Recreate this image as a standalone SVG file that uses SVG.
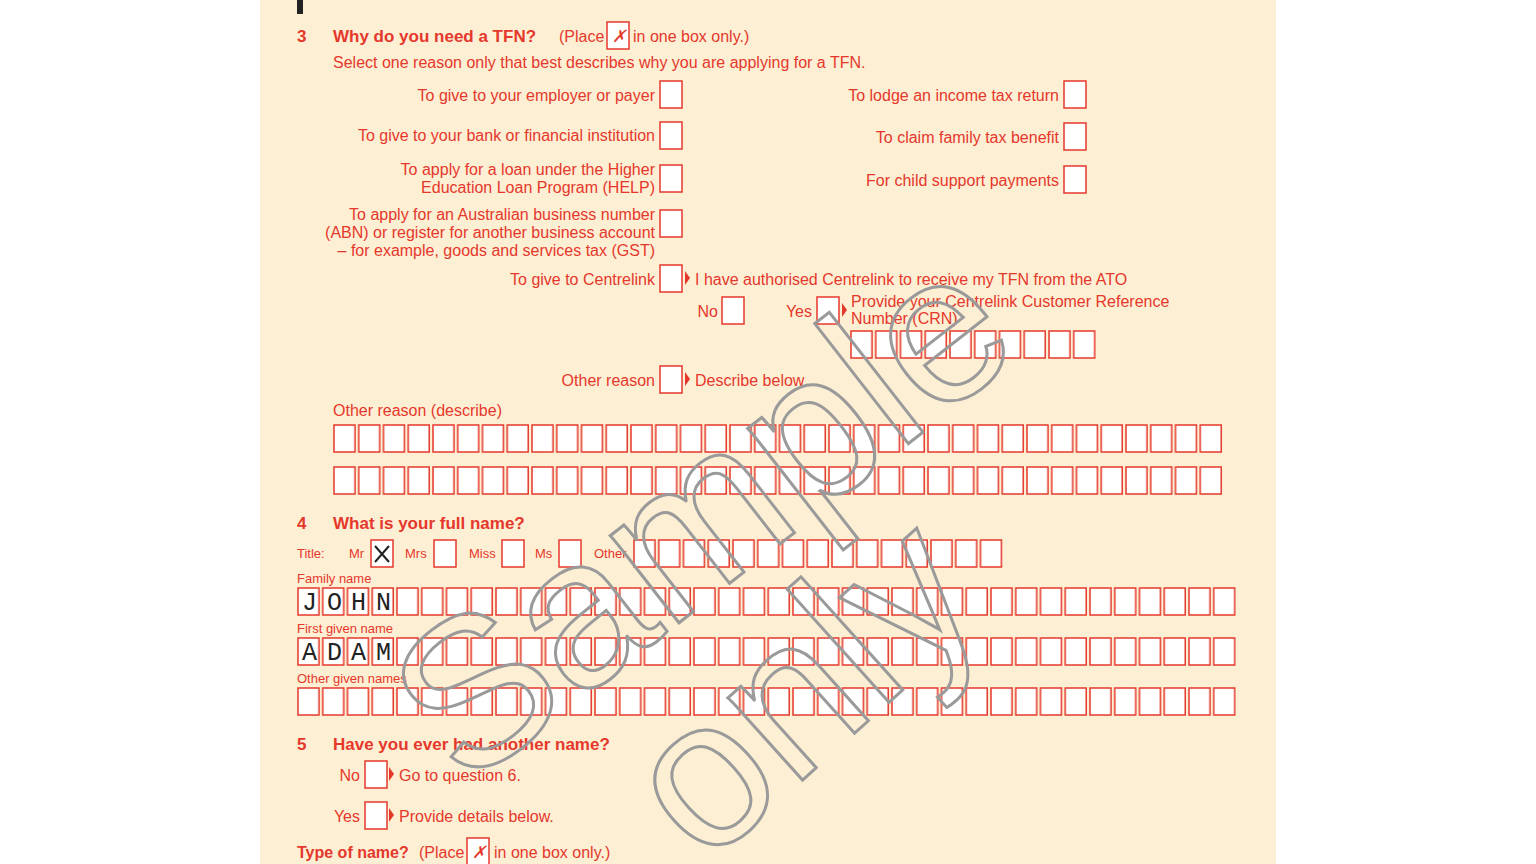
<svg xmlns="http://www.w3.org/2000/svg" width="1536" height="864" viewBox="0 0 1536 864">
<style>
text{font-family:"Liberation Sans",Arial,sans-serif;fill:#e5382c;font-size:16px}
.b{font-weight:bold;font-size:17px}
.s{font-size:13px}
.r{text-anchor:end}
.bx{fill:#fff;stroke:#e5382c;stroke-width:1.5}
.m{font-family:"Liberation Mono",monospace;fill:#222;font-size:25px}
.wm{fill:none;stroke:#9a9a9a;stroke-width:3;font-family:"Liberation Sans",Arial,sans-serif;font-size:210px}
</style>
<defs>
<pattern id="cell" patternUnits="userSpaceOnUse" width="24.75" height="30"><rect class="bx" x="1" y="1" width="21" height="27"/></pattern>
<path id="ar" d="M0,-7 L5,0 L0,7Z" fill="#e5382c"/>
</defs>
<rect width="1536" height="864" fill="#fff"/>
<rect x="260" y="0" width="1016" height="864" fill="#fdefd4"/>
<rect x="297" y="0" width="6" height="14" fill="#222"/>
<g id="q3">
<text x="297" y="42" class="b">3</text>
<text x="333" y="42" class="b">Why do you need a TFN?</text>
<text x="559" y="42">(Place</text>
<rect class="bx" x="607" y="22" width="22" height="27"/>
<text x="612" y="42" style="font-style:italic;font-size:17px">✗</text>
<text x="633" y="42">in one box only.)</text>
<text x="333" y="68">Select one reason only that best describes why you are applying for a TFN.</text>
<text x="655" y="101" class="r">To give to your employer or payer</text>
<rect class="bx" x="660" y="81" width="22" height="27"/>
<text x="655" y="141" class="r">To give to your bank or financial institution</text>
<rect class="bx" x="660" y="122" width="22" height="27"/>
<text x="655" y="175" class="r">To apply for a loan under the Higher</text>
<text x="655" y="193" class="r">Education Loan Program (HELP)</text>
<rect class="bx" x="660" y="165" width="22" height="27"/>
<text x="655" y="220" class="r">To apply for an Australian business number</text>
<text x="655" y="238" class="r">(ABN) or register for another business account</text>
<text x="655" y="256" class="r">– for example, goods and services tax (GST)</text>
<rect class="bx" x="660" y="210" width="22" height="27"/>
<text x="1059" y="101" class="r">To lodge an income tax return</text>
<rect class="bx" x="1064" y="81" width="22" height="27"/>
<text x="1059" y="143" class="r">To claim family tax benefit</text>
<rect class="bx" x="1064" y="123" width="22" height="27"/>
<text x="1059" y="186" class="r">For child support payments</text>
<rect class="bx" x="1064" y="166" width="22" height="27"/>
<text x="655" y="285" class="r">To give to Centrelink</text>
<rect class="bx" x="660" y="265" width="22" height="27"/>
<use href="#ar" x="685" y="278"/>
<text x="695" y="285">I have authorised Centrelink to receive my TFN from the ATO</text>
<text x="718" y="317" class="r">No</text>
<rect class="bx" x="722" y="297" width="22" height="27"/>
<text x="812" y="317" class="r">Yes</text>
<rect class="bx" x="817" y="297" width="22" height="27"/>
<use href="#ar" x="842" y="310"/>
<text x="851" y="307">Provide your Centrelink Customer Reference</text>
<text x="851" y="324">Number (CRN)</text>
<rect transform="translate(850,330)" width="247" height="30" fill="url(#cell)"/>
<text x="655" y="386" class="r">Other reason</text>
<rect class="bx" x="660" y="366" width="22" height="27"/>
<use href="#ar" x="685" y="379"/>
<text x="695" y="386">Describe below</text>
<text x="333" y="416">Other reason (describe)</text>
<rect transform="translate(333,424)" width="890" height="30" fill="url(#cell)"/>
<rect transform="translate(333,466)" width="890" height="30" fill="url(#cell)"/>
</g>
<g id="q4">
<text x="297" y="529" class="b">4</text>
<text x="333" y="529" class="b">What is your full name?</text>
<text x="297" y="558" class="s">Title:</text>
<text x="349" y="558" class="s">Mr</text>
<rect class="bx" x="371" y="540" width="22" height="27"/>
<path d="M375,546 L389,562 M389,546 L375,562" stroke="#222" stroke-width="2"/>
<text x="405" y="558" class="s">Mrs</text>
<rect class="bx" x="434" y="540" width="22" height="27"/>
<text x="469" y="558" class="s">Miss</text>
<rect class="bx" x="502" y="540" width="22" height="27"/>
<text x="535" y="558" class="s">Ms</text>
<rect class="bx" x="559" y="540" width="22" height="27"/>
<text x="594" y="558" class="s">Other</text>
<rect transform="translate(633,539)" width="371" height="30" fill="url(#cell)"/>
<text x="297" y="583" class="s">Family name</text>
<rect transform="translate(297,587)" width="940" height="30" fill="url(#cell)"/>
<text x="302" y="610" class="m">J</text><text x="327" y="610" class="m">O</text><text x="351" y="610" class="m">H</text><text x="376" y="610" class="m">N</text>
<text x="297" y="633" class="s">First given name</text>
<rect transform="translate(297,637)" width="940" height="30" fill="url(#cell)"/>
<text x="302" y="660" class="m">A</text><text x="327" y="660" class="m">D</text><text x="351" y="660" class="m">A</text><text x="376" y="660" class="m">M</text>
<text x="297" y="683" class="s">Other given names</text>
<rect transform="translate(297,687)" width="940" height="30" fill="url(#cell)"/>
</g>
<g id="q5">
<text x="297" y="750" class="b">5</text>
<text x="333" y="750" class="b">Have you ever had another name?</text>
<text x="360" y="781" class="r">No</text>
<rect class="bx" x="365" y="761" width="22" height="27"/>
<use href="#ar" x="389" y="774"/>
<text x="399" y="781">Go to question 6.</text>
<text x="360" y="822" class="r">Yes</text>
<rect class="bx" x="365" y="802" width="22" height="27"/>
<use href="#ar" x="389" y="815"/>
<text x="399" y="822">Provide details below.</text>
<text x="297" y="858" class="b" style="font-size:16px">Type of name?</text>
<text x="419" y="858">(Place</text>
<rect class="bx" x="467" y="838" width="22" height="27"/>
<text x="472" y="858" style="font-style:italic;font-size:17px">✗</text>
<text x="494" y="858">in one box only.)</text>
</g>
<g id="watermark">
<text class="wm" transform="translate(465,790) rotate(-38)">Sample</text>
<text class="wm" transform="translate(705,868) rotate(-42)">only</text>
</g>
</svg>
